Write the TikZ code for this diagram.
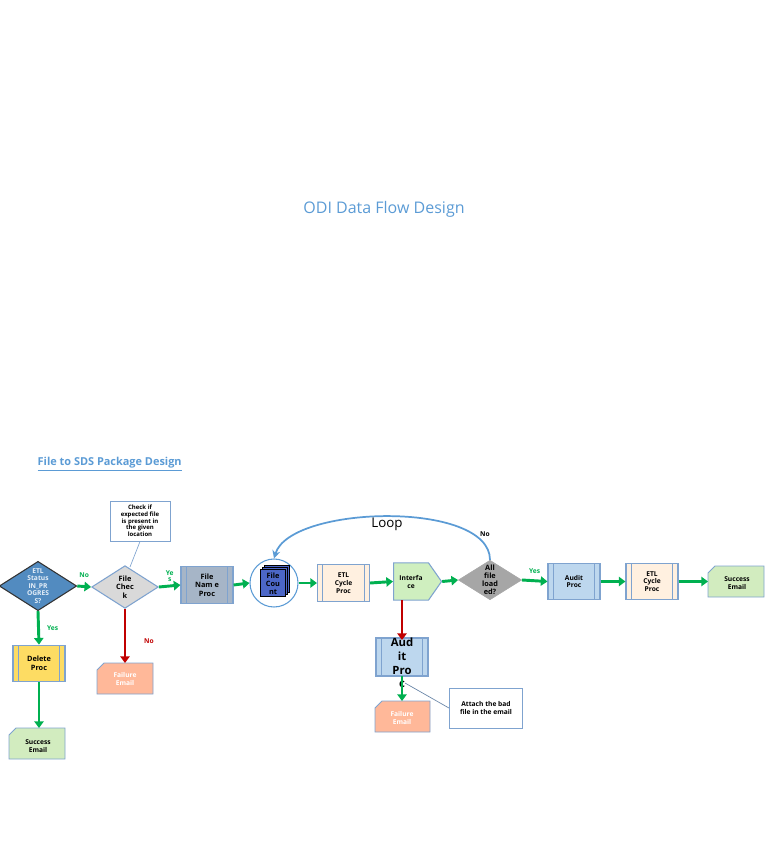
\documentclass[tikz,border=0pt]{standalone}
\usepackage{fontspec}
\setmainfont{Open Sans}
\usetikzlibrary{shapes.geometric,shapes.symbols,arrows.meta}
\definecolor{gr}{HTML}{00B050}
\definecolor{rd}{HTML}{C00000}
\definecolor{bl}{HTML}{5B9BD5}
\definecolor{bd}{HTML}{7FA3CF}
\tikzset{
  t/.style={font=\fontsize{5}{5.6}\selectfont\bfseries,align=center,text=black},
  proc/.style={t,draw=bd,line width=0.8pt,minimum width=39pt,minimum height=27.5pt,
    path picture={\draw[bd,line width=0.7pt]([xshift=4pt]path picture bounding box.north west)--([xshift=4pt]path picture bounding box.south west)
      ([xshift=-4pt]path picture bounding box.north east)--([xshift=-4pt]path picture bounding box.south east);}},
  dia/.style={t,diamond,aspect=1.6,inner sep=0pt},
  ga/.style={gr,line width=2.2pt,-{Triangle[length=5pt,width=7pt]}},
  ra/.style={rd,line width=2.2pt,-{Triangle[length=5pt,width=7pt]}},
  note/.style={t,draw=bd,fill=white,line width=0.6pt,font=\fontsize{4.5}{5}\selectfont\bfseries},
  lab/.style={font=\fontsize{5}{6}\selectfont\bfseries}
}
\newcommand{\card}[5]{% x1 y1 x2 y2 fill
  \fill[#5,draw=bd,line width=0.6pt] (#1+7,#2)--(#3,#2)--(#3,#4)--(#1,#4)--(#1,#2+7)--cycle;}
\begin{document}
\begin{tikzpicture}[x=0.75pt,y=-0.75pt]
\useasboundingbox (0,0) rectangle (768,866);
\node (title) at (384,209) {\fontsize{12}{14}\selectfont\color{bl}ODI Data Flow Design};
\node[anchor=west,text=bl] (sub) at (33,464) {\fontsize{8.2}{10}\selectfont\bfseries\underline{File to SDS Package Design}};

% decision 1
\node[dia,fill=bl!90!black,draw=black!80,line width=0.8pt,minimum width=57pt,minimum height=37pt,text=white!85!bl] (d1) at (38,586) {ETL\\Status\\IN\_PR\\OGRES\\S?};
\node[dia,fill=gray!30,draw=bd,line width=0.8pt,minimum width=50pt,minimum height=32pt,font=\fontsize{5.5}{6.5}\selectfont\bfseries] (fc) at (125,587) {File\\Chec\\k};
\node[note,minimum width=45pt,minimum height=30pt] (n1) at (140,521) {Check if\\expected file\\is present in\\the given\\location};
\draw[bd,line width=0.5pt] (130,567) -- (n1.south);
\node[proc,fill=gray!40!bd!70,minimum width=39pt,font=\fontsize{5.5}{6.5}\selectfont\bfseries] (fn) at (207,585) {File\\Nam e\\Proc};
% file count
\node[circle,draw=bl,line width=0.8pt,minimum size=36pt,fill=white] (cnt) at (274,583) {};
\foreach \d in {4,2,0}{\fill[bl!60!blue!70!gray,draw=black,line width=0.5pt] (260+\d,569-\d) rectangle (285+\d,596-\d);}
\node[t,font=\fontsize{5.5}{6}\selectfont\bfseries] (cntt) at (273,584) {File\\Cou\\nt};
\node[proc,fill=orange!12,font=\fontsize{5}{6}\selectfont\bfseries] (etl1) at (343.5,583) {ETL\\Cycle\\Proc};
\node[signal,signal to=east,signal pointer angle=110,draw=bd,fill=green!50!olive!25,line width=0.8pt,minimum width=36pt,minimum height=28pt,t,font=\fontsize{5}{6}\selectfont\bfseries] (intf) at (411,581.5) {Interfa\\ce};
\node[dia,fill=gray!70,draw=gray!70,minimum width=46pt,minimum height=29pt,font=\fontsize{5.5}{6}\selectfont\bfseries] (d2) at (490,580) {All\\file\\load\\ed?};
\node[proc,fill=bl!40] (aud) at (574,581.5) {Audit\\Proc};
\node[proc,fill=orange!12] (etl2) at (652,581.5) {ETL\\Cycle\\Proc};
\card{708}{566}{764}{597}{green!40!olive!25}
\node[t] (se1) at (737,583) {Success\\Email};
\node[proc,fill=yellow!60!orange!60,font=\fontsize{5.5}{6.5}\selectfont\bfseries] (del) at (39,663.5) {Delete\\Proc};
\card{9}{728}{65}{759}{green!40!olive!25}
\node[t] (se2) at (38,746) {Success\\Email};
\card{97}{663}{153}{694}{orange!60!red!40!white}
\node[t,text=white] (fe1) at (125,679) {Failure\\Email};
\node[proc,fill=bl!40,minimum height=28.5pt,font=\fontsize{8.5}{10}\selectfont\bfseries] (ap) at (402,657) {};
\node[t,font=\fontsize{8.5}{10.3}\selectfont\bfseries] (apt) at (402,663) {Aud\\it\\Pro\\c};
\card{375}{701}{430}{732}{orange!60!red!40!white}
\node[t,text=white] (fe2) at (402,718) {Failure\\Email};
\node[note,minimum width=55pt,minimum height=30pt,font=\fontsize{5}{6}\selectfont\bfseries] (n2) at (486,708) {Attach the bad\\file in the email};
\coordinate (c2) at (405,683);
\draw[bd!80!black,line width=0.5pt] (c2) -- (n2.west);

% connectors
\draw[ga] (d1.east) -- (fc.west) node[lab,midway,above=2pt] {No};
\draw[ga] (d1.south) -- (del.north) node[lab,midway,right=2pt] {Yes};
\draw[ga] (del.south) -- (39,728);
\draw[ra] (fc.south) -- (125,663) node[lab,pos=0.6,right=10pt] {No};
\draw[ga] (fc.east) -- (fn.west) node[lab,midway,above=-1pt,align=center,font=\fontsize{5}{4.5}\selectfont\bfseries] {Ye\\s};
\draw[ga] (fn.east) -- (cnt.west);
\draw[ga] (cnt.east) -- (etl1.west);
\draw[ga] (etl1.east) -- (intf.west);
\draw[ga] (intf.east) -- (d2.west);
\draw[ga] (d2.east) -- (aud.west) node[lab,midway,above=1pt] {Yes};
\draw[ga] (aud.east) -- (etl2.west);
\draw[ga] (etl2.east) -- (708,581.5);
\draw[ra] (402,600) -- (402,640);
\draw[ga] (402,676) -- (402,701);
\draw[bl,line width=1.3pt,-{Stealth[length=6pt,width=6pt]}] (d2.north) .. controls (490,500) and (290,505) .. (cnt.north) ;
\node[font=\fontsize{10}{12}\selectfont] (loop) at (387,524) {Loop};
\node[lab] (no2) at (485,534) {No};
\end{tikzpicture}
\end{document}
